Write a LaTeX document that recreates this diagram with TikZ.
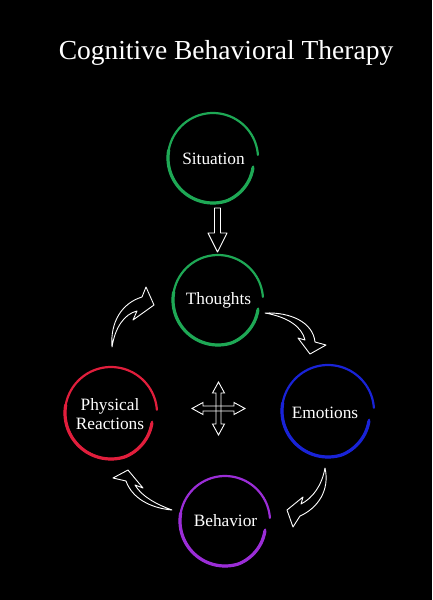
\documentclass[tikz,border=0pt]{standalone}
\usepackage{fontspec}
\setmainfont{Liberation Serif}
\definecolor{cbtgreen}{RGB}{30,168,85}
\definecolor{cbtblue}{RGB}{25,35,215}
\definecolor{cbtred}{RGB}{225,30,60}
\definecolor{cbtpurple}{RGB}{155,45,215}
\newcommand{\cbtring}[3]{%
  \draw[#1, line width=2.2pt, line cap=round, shift={(#2)}]
    plot[domain=12:356, samples=90, smooth] (\x:{#3-4*max(0,1-(\x-12)/60)});
  \draw[#1, line width=3.2pt, line cap=round, shift={(#2)}]
    plot[domain=14:190, samples=60, smooth] (\x:{#3-4*max(0,1-(\x-12)/60)});
}
\begin{document}
\begin{tikzpicture}[x=1pt,y=-1pt,
  lbl/.style={text=white, font=\fontsize{17.3}{19}\selectfont, align=center, inner sep=0pt},
  blk/.style={draw=white, line width=0.9pt, line join=round, fill=black},
  blko/.style={draw=white, line width=0.9pt, line join=miter}]
\fill[black] (0,0) rectangle (432,600);
\useasboundingbox (0,0) rectangle (432,600);

\node[text=white, font=\fontsize{27.5}{30}\selectfont, anchor=base, inner sep=0pt] (title) at (226,59) {Cognitive Behavioral Therapy};

% ring centres
\coordinate (sitC) at (213,158);
\coordinate (thoC) at (218,300);
\coordinate (phyC) at (111,413);
\coordinate (emoC) at (328,411);
\coordinate (behC) at (225,521);

\cbtring{cbtgreen}{sitC}{45}
\cbtring{cbtgreen}{thoC}{45}
\cbtring{cbtred}{phyC}{46}
\cbtring{cbtblue}{emoC}{46}
\cbtring{cbtpurple}{behC}{45}

\node[lbl] (sit) at (213.5,159) {Situation};
\node[lbl] (tho) at (218.5,300) {Thoughts};
\node[lbl] (phy) at (110,414) {Physical\\Reactions};
\node[lbl] (emo) at (325,413) {Emotions};
\node[lbl] (beh) at (225.5,521) {Behavior};

% straight down arrow Situation -> Thoughts
\draw[blk] (214.5,208) -- (220.5,208) -- (220.5,233) -- (227,233) -- (217.5,252)
  -- (208,233) -- (214.5,233) -- cycle;

% four-way arrow
\draw[blko] (192,408.5) -- (203,402.5) -- (203,406) -- (234,406) -- (234,402.5)
  -- (245,408.5) -- (234,414.5) -- (234,411) -- (203,411) -- (203,414.5) -- cycle;
\draw[blko] (218.5,382) -- (224.5,393) -- (221,393) -- (221,424) -- (224.5,424)
  -- (218.5,435) -- (212.5,424) -- (216,424) -- (216,393) -- (212.5,393) -- cycle;

% curved arrows
\draw[blk] (112,347) .. controls (110,322) and (122,303) .. (142,297) -- (146,287)
  -- (154,305) -- (133,320) -- (137,311) .. controls (124,314) and (115,328) .. cycle;
\draw[blk] (265,313) .. controls (290,312) and (313,322) .. (315,342) -- (326,345)
  -- (310,354) -- (298,338) -- (305,340) .. controls (302,327) and (288,317) .. cycle;
\draw[blk] (325,468) .. controls (330,490) and (318,508) .. (300,516) -- (293,527)
  -- (287,510) -- (303,497) -- (301,504) .. controls (313,498) and (322,485) .. cycle;
\draw[blk] (172,510) .. controls (150,508) and (132,498) .. (126,481) -- (113,478)
  -- (128,470) -- (143,488) -- (135,485) .. controls (142,497) and (158,505) .. cycle;
\end{tikzpicture}
\end{document}
